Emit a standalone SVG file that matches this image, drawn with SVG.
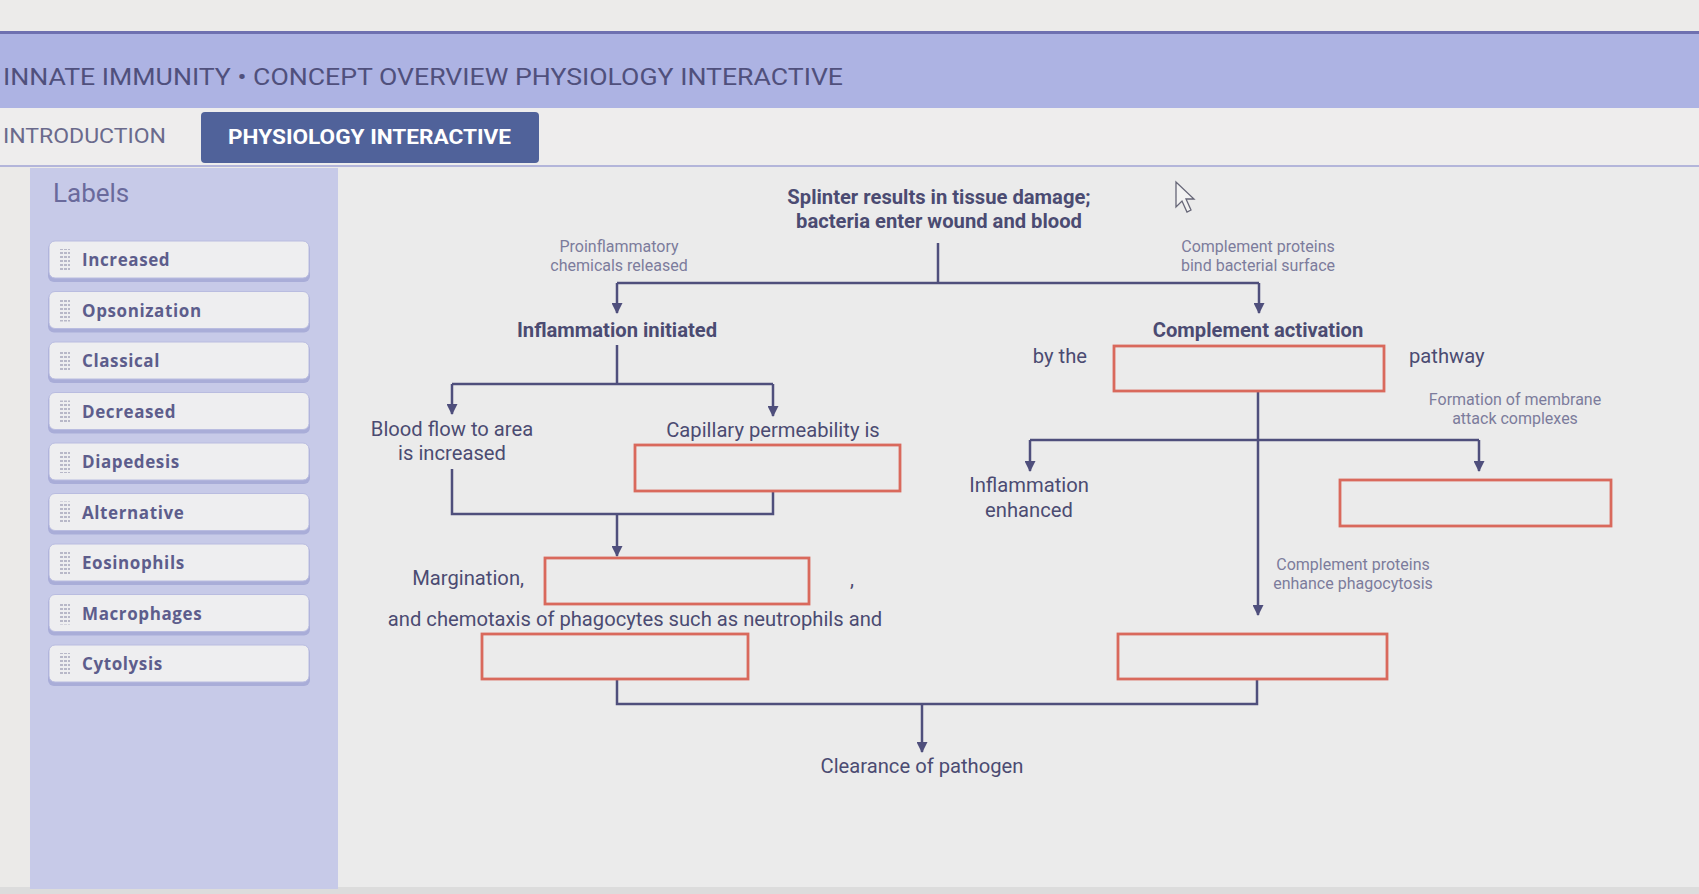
<svg xmlns="http://www.w3.org/2000/svg" width="1699" height="894" viewBox="0 0 1699 894">
<defs>
<style>
.t{font-family:Roboto,"Liberation Sans",sans-serif;fill:#4b4b72}
.b{font-weight:bold}
.sm{font-size:16px;fill:#7c7c9c}
.md{font-size:20.2px}
.lbl{font-family:"Open Sans","DejaVu Sans",sans-serif;font-weight:bold;font-size:17px;fill:#5d5d8c;letter-spacing:0.6px}
.conn path{fill:none;stroke:#4f4f7c;stroke-width:2.5}
.conn path.arr{marker-end:url(#ah)}
.box{fill:none;stroke:#d9695c;stroke-width:2.8}
.btn{fill:#eeeef0;stroke:#b9bce0;stroke-width:1}
.sh{fill:#a9add8}
</style>
<marker id="ah" viewBox="0 0 10 10" refX="9" refY="5" markerWidth="14" markerHeight="11" orient="auto" markerUnits="userSpaceOnUse">
<path d="M0,0 L10,5 L0,10 z" fill="#4f4f7c"/>
</marker>
<pattern id="grip" width="4" height="4" patternUnits="userSpaceOnUse">
<rect x="0" y="0" width="3" height="2" fill="#b8b8c8"/>
</pattern>
</defs>

<!-- page background -->
<rect x="0" y="0" width="1699" height="894" fill="#ebeae8"/>
<rect x="0" y="0" width="1699" height="32" fill="#ecebea"/>
<rect x="0" y="31" width="1699" height="3" fill="#6e70b0"/>
<rect x="0" y="34" width="1699" height="74" fill="#adb3e3"/>
<rect x="0" y="108" width="1699" height="58" fill="#eeeded"/>
<rect x="0" y="165" width="1699" height="2" fill="#b3b5da"/>
<rect x="338" y="167" width="1361" height="722" fill="#ebebeb"/>
<rect x="0" y="887" width="1699" height="7" fill="#dcdcdc"/>

<g id="header">
<text class="t" x="3" y="85" font-size="24.5" style="fill:#50507c" textLength="840" lengthAdjust="spacingAndGlyphs">INNATE IMMUNITY • CONCEPT OVERVIEW PHYSIOLOGY INTERACTIVE</text>
</g>
<g id="tabs">
<text class="t" x="3" y="143" font-size="21" style="fill:#6a6a8c" textLength="163" lengthAdjust="spacingAndGlyphs">INTRODUCTION</text>
<rect x="201" y="112" width="338" height="51" rx="4" fill="#50629a"/>
<text class="t b" x="228" y="144" font-size="21" style="fill:#ffffff" textLength="283" lengthAdjust="spacingAndGlyphs">PHYSIOLOGY INTERACTIVE</text>
</g>

<g id="sidebar">
<rect x="30" y="168" width="308" height="721" fill="#c7cae8"/>
<text class="t" x="53" y="202" font-size="26" style="fill:#6a6a9c">Labels</text>
<g id="lb-increased"><rect class="sh" x="48" y="243" width="262" height="39" rx="6"/><rect class="btn" x="49" y="241" width="260" height="37" rx="6"/><rect x="59" y="249" width="11" height="22" fill="url(#grip)"/><text class="lbl" x="82" y="266">Increased</text></g>
<g id="lb-opsonization"><rect class="sh" x="48" y="293.5" width="262" height="39" rx="6"/><rect class="btn" x="49" y="291.5" width="260" height="37" rx="6"/><rect x="59" y="299.5" width="11" height="22" fill="url(#grip)"/><text class="lbl" x="82" y="316.5">Opsonization</text></g>
<g id="lb-classical"><rect class="sh" x="48" y="344" width="262" height="39" rx="6"/><rect class="btn" x="49" y="342" width="260" height="37" rx="6"/><rect x="59" y="350" width="11" height="22" fill="url(#grip)"/><text class="lbl" x="82" y="367">Classical</text></g>
<g id="lb-decreased"><rect class="sh" x="48" y="394.5" width="262" height="39" rx="6"/><rect class="btn" x="49" y="392.5" width="260" height="37" rx="6"/><rect x="59" y="400.5" width="11" height="22" fill="url(#grip)"/><text class="lbl" x="82" y="417.5">Decreased</text></g>
<g id="lb-diapedesis"><rect class="sh" x="48" y="445" width="262" height="39" rx="6"/><rect class="btn" x="49" y="443" width="260" height="37" rx="6"/><rect x="59" y="451" width="11" height="22" fill="url(#grip)"/><text class="lbl" x="82" y="468">Diapedesis</text></g>
<g id="lb-alternative"><rect class="sh" x="48" y="495.5" width="262" height="39" rx="6"/><rect class="btn" x="49" y="493.5" width="260" height="37" rx="6"/><rect x="59" y="501.5" width="11" height="22" fill="url(#grip)"/><text class="lbl" x="82" y="518.5">Alternative</text></g>
<g id="lb-eosinophils"><rect class="sh" x="48" y="546" width="262" height="39" rx="6"/><rect class="btn" x="49" y="544" width="260" height="37" rx="6"/><rect x="59" y="552" width="11" height="22" fill="url(#grip)"/><text class="lbl" x="82" y="569">Eosinophils</text></g>
<g id="lb-macrophages"><rect class="sh" x="48" y="596.5" width="262" height="39" rx="6"/><rect class="btn" x="49" y="594.5" width="260" height="37" rx="6"/><rect x="59" y="602.5" width="11" height="22" fill="url(#grip)"/><text class="lbl" x="82" y="619.5">Macrophages</text></g>
<g id="lb-cytolysis"><rect class="sh" x="48" y="647" width="262" height="39" rx="6"/><rect class="btn" x="49" y="645" width="260" height="37" rx="6"/><rect x="59" y="653" width="11" height="22" fill="url(#grip)"/><text class="lbl" x="82" y="670">Cytolysis</text></g>
</g>

<g class="conn" id="connectors">
<path d="M938,243 V283"/>
<path d="M617,283 H1259"/>
<path class="arr" d="M617,283 V313"/>
<path class="arr" d="M1259,283 V313"/>
<path d="M617,345 V384"/>
<path d="M452,384 H773"/>
<path class="arr" d="M452,384 V414"/>
<path class="arr" d="M773,384 V416"/>
<path d="M452,469 V514 H773 V491"/>
<path class="arr" d="M617,514 V556"/>
<path d="M617,679 V704 H1257 V679"/>
<path class="arr" d="M922,704 V752"/>
<path class="arr" d="M1258,391 V615"/>
<path d="M1030,440 H1479"/>
<path class="arr" d="M1030,440 V471"/>
<path class="arr" d="M1479,440 V471"/>
</g>

<g id="n-splinter">
<text class="t b md" x="939" y="204" text-anchor="middle">Splinter results in tissue damage;</text>
<text class="t b md" x="939" y="228" text-anchor="middle">bacteria enter wound and blood</text>
</g>
<g id="e-proinflammatory">
<text class="t sm" x="619" y="252" text-anchor="middle">Proinflammatory</text>
<text class="t sm" x="619" y="271" text-anchor="middle">chemicals released</text>
</g>
<g id="e-complement-bind">
<text class="t sm" x="1258" y="252" text-anchor="middle">Complement proteins</text>
<text class="t sm" x="1258" y="271" text-anchor="middle">bind bacterial surface</text>
</g>
<g id="n-inflammation">
<text class="t b md" x="617" y="337" text-anchor="middle">Inflammation initiated</text>
</g>
<g id="n-complement">
<text class="t b md" x="1258" y="337" text-anchor="middle">Complement activation</text>
<text class="t md" x="1087" y="363" text-anchor="end">by the</text>
<rect class="box" x="1114" y="346" width="270" height="45"/>
<text class="t md" x="1409" y="363">pathway</text>
</g>
<g id="n-bloodflow">
<text class="t md" x="452" y="436" text-anchor="middle">Blood flow to area</text>
<text class="t md" x="452" y="460" text-anchor="middle">is increased</text>
</g>
<g id="n-capillary">
<text class="t md" x="773" y="437" text-anchor="middle">Capillary permeability is</text>
<rect class="box" x="635" y="445" width="265" height="46"/>
</g>
<g id="n-margination">
<text class="t md" x="524" y="585" text-anchor="end">Margination,</text>
<rect class="box" x="545" y="558" width="264" height="46"/>
<text class="t md" x="850" y="586">,</text>
<text class="t md" x="635" y="626" text-anchor="middle">and chemotaxis of phagocytes such as neutrophils and</text>
<rect class="box" x="482" y="634" width="266" height="45"/>
</g>
<g id="e-mac">
<text class="t sm" x="1515" y="405" text-anchor="middle">Formation of membrane</text>
<text class="t sm" x="1515" y="424" text-anchor="middle">attack complexes</text>
</g>
<g id="n-inflammation-enhanced">
<text class="t md" x="1029" y="492" text-anchor="middle">Inflammation</text>
<text class="t md" x="1029" y="517" text-anchor="middle">enhanced</text>
</g>
<g id="n-mac-box">
<rect class="box" x="1340" y="480" width="271" height="46"/>
</g>
<g id="e-phago">
<text class="t sm" x="1353" y="570" text-anchor="middle">Complement proteins</text>
<text class="t sm" x="1353" y="589" text-anchor="middle">enhance phagocytosis</text>
</g>
<g id="n-phago-box">
<rect class="box" x="1118" y="634" width="269" height="45"/>
</g>
<g id="n-clearance">
<text class="t md" x="922" y="773" text-anchor="middle">Clearance of pathogen</text>
</g>

<g id="cursor">
<path d="M1176,182 L1176,207 L1182,201 L1187,212 L1191,210 L1186,199 L1194,199 Z" fill="#f2f2f2" stroke="#666677" stroke-width="1.3"/>
</g>
</svg>
